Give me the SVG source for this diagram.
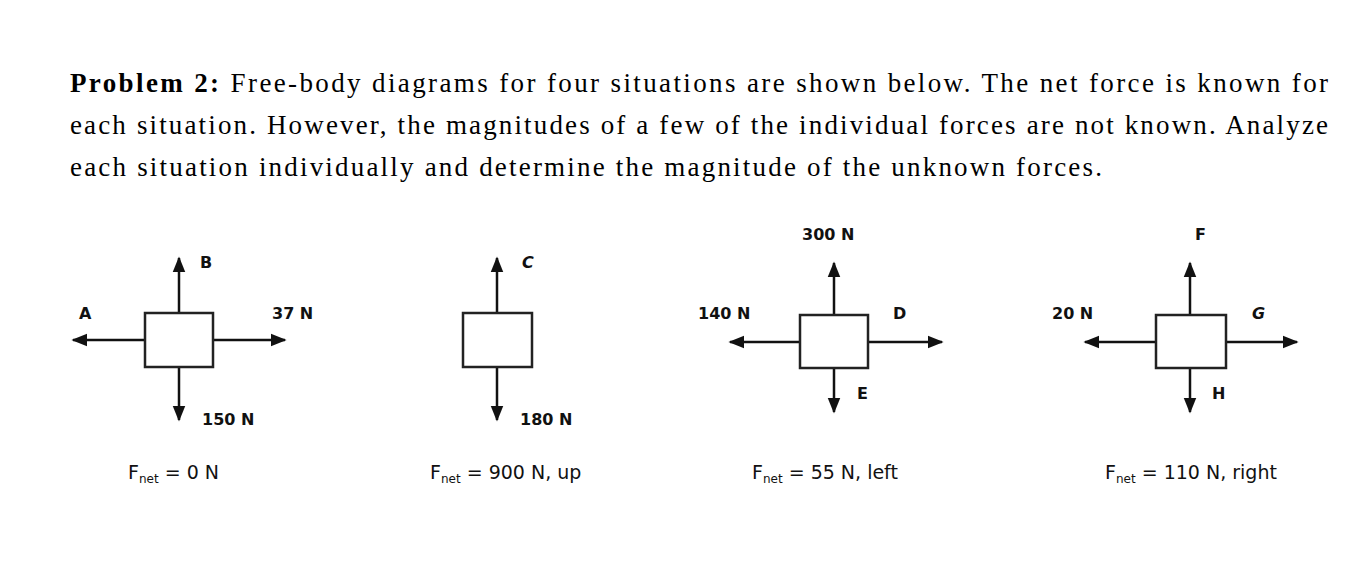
<svg xmlns="http://www.w3.org/2000/svg" width="1368" height="574" viewBox="0 0 1368 574">
<style>
.t{font-family:"Liberation Serif",serif;font-size:27px;fill:#000}
.l{font-family:"DejaVu Sans",sans-serif;font-size:16px;font-weight:bold;fill:#111}
.f{font-family:"DejaVu Sans",sans-serif;font-size:19px;fill:#111}
.s{font-size:12px}
.box{fill:#fff;stroke:#222;stroke-width:2.5}
.a{stroke:#111;stroke-width:2.5;fill:none;marker-end:url(#ah)}
</style>
<defs><marker id="ah" viewBox="0 0 10 10" refX="9" refY="5" markerWidth="7" markerHeight="7" markerUnits="userSpaceOnUse" orient="auto"><path d="M0,0L10,5L0,10z" fill="#111"/></marker>
<marker id="ah2" viewBox="0 0 10 10" refX="9" refY="5" markerWidth="16" markerHeight="16" markerUnits="userSpaceOnUse" orient="auto"><path d="M0,1L10,5L0,9z" fill="#111"/></marker></defs>
<rect width="1368" height="574" fill="#fff"/>
<g id="title">
<text class="t" x="70" y="92" textLength="1258"><tspan font-weight="bold">Problem 2:</tspan> Free-body diagrams for four situations are shown below. The net force is known for</text>
<text class="t" x="70" y="134" textLength="1258">each situation. However, the magnitudes of a few of the individual forces are not known. Analyze</text>
<text class="t" x="70" y="176" textLength="1032">each situation individually and determine the magnitude of the unknown forces.</text>
</g>
<g id="connectors" style="marker-end:url(#ah2)">
<path class="a" style="marker-end:url(#ah2)" d="M179,313V258"/>
<path class="a" style="marker-end:url(#ah2)" d="M145,340H73"/>
<path class="a" style="marker-end:url(#ah2)" d="M213,340H285"/>
<path class="a" style="marker-end:url(#ah2)" d="M179,367V420"/>
<path class="a" style="marker-end:url(#ah2)" d="M497,313V258"/>
<path class="a" style="marker-end:url(#ah2)" d="M497,367V420"/>
<path class="a" style="marker-end:url(#ah2)" d="M834,315V263"/>
<path class="a" style="marker-end:url(#ah2)" d="M800,342H730"/>
<path class="a" style="marker-end:url(#ah2)" d="M868,342H942"/>
<path class="a" style="marker-end:url(#ah2)" d="M834,368V412"/>
<path class="a" style="marker-end:url(#ah2)" d="M1190,315V263"/>
<path class="a" style="marker-end:url(#ah2)" d="M1156,342H1085"/>
<path class="a" style="marker-end:url(#ah2)" d="M1226,342H1297"/>
<path class="a" style="marker-end:url(#ah2)" d="M1190,368V412"/>
</g>
<g id="d1">
<rect class="box" x="145" y="313" width="68" height="54"/>
<text class="l" x="200" y="268">B</text><text class="l" x="79" y="319">A</text>
<text class="l" x="272" y="319">37 N</text><text class="l" x="202" y="425">150 N</text>
<text class="f" x="128" y="479">F<tspan class="s" dy="4">net</tspan><tspan dy="-4"> = 0 N</tspan></text>
</g>
<g id="d2">
<rect class="box" x="463" y="313" width="69" height="54"/>
<text class="l" x="522" y="268" font-style="italic">C</text>
<text class="l" x="520" y="425">180 N</text>
<text class="f" x="430" y="479">F<tspan class="s" dy="4">net</tspan><tspan dy="-4"> = 900 N, up</tspan></text>
</g>
<g id="d3">
<rect class="box" x="800" y="315" width="68" height="53"/>
<text class="l" x="802" y="240">300 N</text><text class="l" x="698" y="319">140 N</text>
<text class="l" x="893" y="319">D</text><text class="l" x="857" y="399">E</text>
<text class="f" x="752" y="479">F<tspan class="s" dy="4">net</tspan><tspan dy="-4"> = 55 N, left</tspan></text>
</g>
<g id="d4">
<rect class="box" x="1156" y="315" width="70" height="53"/>
<text class="l" x="1195" y="240">F</text><text class="l" x="1052" y="319">20 N</text>
<text class="l" x="1252" y="319" font-style="italic">G</text><text class="l" x="1212" y="399">H</text>
<text class="f" x="1105" y="479">F<tspan class="s" dy="4">net</tspan><tspan dy="-4"> = 110 N, right</tspan></text>
</g>
</svg>
